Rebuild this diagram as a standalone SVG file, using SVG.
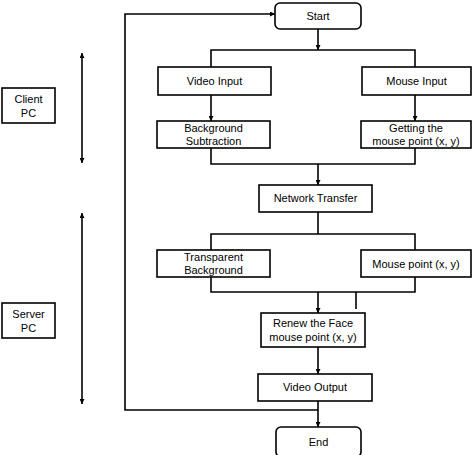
<svg xmlns="http://www.w3.org/2000/svg" width="474" height="455" viewBox="0 0 474 455">
<style>
.box{fill:#fff;stroke:#000;stroke-width:1.6}
.ln{fill:none;stroke:#000;stroke-width:1.6}
text{font-family:"Liberation Sans",Arial,sans-serif;font-size:11px;fill:#000;text-anchor:middle}
</style>
<defs>
<marker id="ah" viewBox="0 0 10 10" refX="10" refY="5" markerWidth="5" markerHeight="5" orient="auto" markerUnits="userSpaceOnUse">
<path d="M0,0 L10,5 L0,10 z" fill="#000"/>
</marker>
<marker id="ahs" viewBox="0 0 10 10" refX="10" refY="5" markerWidth="5" markerHeight="5" orient="auto-start-reverse" markerUnits="userSpaceOnUse">
<path d="M0,0 L10,5 L0,10 z" fill="#000"/>
</marker>
</defs>
<rect width="474" height="455" fill="#fff"/>
<g id="connectors">
<path class="ln" d="M318,29 V50" marker-end="url(#ah)"/>
<path class="ln" d="M211,67 V50 H415 V67"/>
<path class="ln" d="M211,95 V121" marker-end="url(#ah)"/>
<path class="ln" d="M415,95 V121" marker-end="url(#ah)"/>
<path class="ln" d="M211,148 V164 H415 V148"/>
<path class="ln" d="M318,164 V185" marker-end="url(#ah)"/>
<path class="ln" d="M318,212 V234"/>
<path class="ln" d="M211,250 V234 H415 V250"/>
<path class="ln" d="M211,277 V292 H415 V277"/>
<path class="ln" d="M356,292 V309"/>
<path class="ln" d="M318,292 V313" marker-end="url(#ah)"/>
<path class="ln" d="M318,347 V374" marker-end="url(#ah)"/>
<path class="ln" d="M318,401 V427" marker-end="url(#ah)"/>
<path class="ln" d="M318,410 H125 V14 H275" marker-end="url(#ah)"/>
<path class="ln" d="M82,53 V163" marker-start="url(#ahs)" marker-end="url(#ah)"/>
<path class="ln" d="M82,213 V404" marker-start="url(#ahs)" marker-end="url(#ah)"/>
</g>
<g id="start"><rect class="box" x="275" y="3" width="86" height="26" rx="5"/><text x="318" y="20">Start</text></g>
<g id="video-input"><rect class="box" x="158" y="67" width="113" height="28"/><text x="214.5" y="85">Video Input</text></g>
<g id="mouse-input"><rect class="box" x="362" y="67" width="109" height="28"/><text x="416.5" y="85">Mouse Input</text></g>
<g id="background-subtraction"><rect class="box" x="157" y="121" width="113" height="27"/><text x="213.5" y="132">Background</text><text x="213.5" y="145">Subtraction</text></g>
<g id="getting-mouse-point"><rect class="box" x="361" y="121" width="110" height="27"/><text x="416" y="132">Getting the</text><text x="416" y="145">mouse point (x, y)</text></g>
<g id="network-transfer"><rect class="box" x="259" y="185" width="113" height="27"/><text x="315.5" y="202">Network Transfer</text></g>
<g id="transparent-background"><rect class="box" x="157" y="250" width="113" height="27"/><text x="213.5" y="261">Transparent</text><text x="213.5" y="274">Background</text></g>
<g id="mouse-point"><rect class="box" x="361" y="250" width="110" height="27"/><text x="416" y="268">Mouse point (x, y)</text></g>
<g id="renew-face"><rect class="box" x="261" y="313" width="104" height="34"/><text x="313" y="327">Renew the Face</text><text x="313" y="341">mouse point (x, y)</text></g>
<g id="video-output"><rect class="box" x="258" y="374" width="114" height="27"/><text x="315" y="391">Video Output</text></g>
<g id="end"><rect class="box" x="276" y="427" width="85" height="30" rx="5"/><text x="318.5" y="446">End</text></g>
<g id="client-pc"><rect class="box" x="2" y="88" width="53" height="35"/><text x="28.5" y="103">Client</text><text x="28.5" y="117">PC</text></g>
<g id="server-pc"><rect class="box" x="2" y="303" width="53" height="35"/><text x="28.5" y="318">Server</text><text x="28.5" y="332">PC</text></g>
</svg>
